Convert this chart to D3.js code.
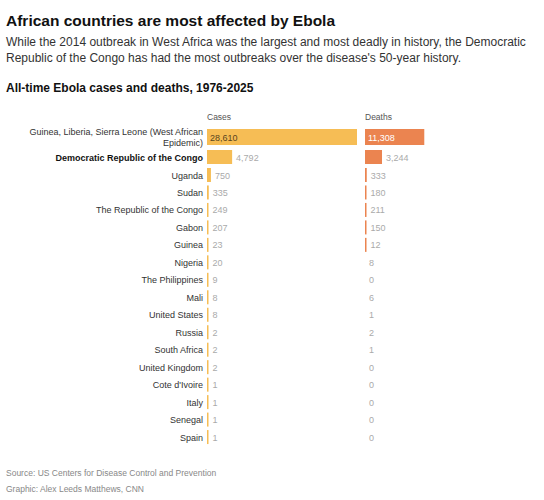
<!DOCTYPE html><html><head><meta charset="utf-8"><script src="https://cdn.jsdelivr.net/npm/d3@7"></script>
<style>body{margin:0;background:#fff;font-family:"Liberation Sans",Arial,sans-serif}</style></head><body><svg id="c" width="544" height="500" font-family="Liberation Sans, Arial, sans-serif"></svg>
<script>
const countries=["Guinea, Liberia, Sierra Leone (West African|Epidemic)","Democratic Republic of the Congo","Uganda","Sudan","The Republic of the Congo","Gabon","Guinea","Nigeria","The Philippines","Mali","United States","Russia","South Africa","United Kingdom","Cote d'Ivoire","Italy","Senegal","Spain"];
const cases=[28610,4792,750,335,249,207,23,20,9,8,8,2,2,2,1,1,1,1];
const deaths=[11308,3244,333,180,211,150,12,8,0,6,1,2,1,0,0,0,0,0];
const svg=d3.select("#c");
const t=(x,y,s,o={})=>svg.append("text").attr("x",x).attr("y",y).text(s).attr("font-size",o.fs||11).attr("fill",o.c||"#333").attr("font-weight",o.w||"normal").attr("text-anchor",o.a||"start");
t(6,26,"African countries are most affected by Ebola",{fs:15.5,w:"bold",c:"#111"});
t(6,46,"While the 2014 outbreak in West Africa was the largest and most deadly in history, the Democratic",{fs:12,c:"#333"});
t(6,62,"Republic of the Congo has had the most outbreaks over the disease's 50-year history.",{fs:12,c:"#333"});
t(6,92,"All-time Ebola cases and deaths, 1976-2025",{fs:12,w:"bold",c:"#111"});
const x=d3.scaleLinear().domain([0,28610]).range([0,150]);
const x0=207,x1=365;
t(x0,120,"Cases",{fs:8.5,c:"#555"});t(x1,120,"Deaths",{fs:8.5,c:"#555"});
const ys=i=>i===0?137:i===1?157:175+(i-2)*17.47;
countries.forEach((n,i)=>{
 const y=ys(i),h=i===0?16:14;
 const parts=n.split("|");
 if(parts.length>1){t(x0-4,y-2,parts[0],{fs:9,a:"end",c:"#333"});t(x0-4,y+9,parts[1],{fs:9,a:"end",c:"#333"});}
 else t(x0-4,y+3.5,n,{fs:9,a:"end",c:i===1?"#111":"#333",w:i===1?"bold":"normal"});
 [[x0,cases[i],"#f6bd55",0],[x1,deaths[i],"#eb8450",10]].forEach(([bx,v,col,th])=>{
  const show=v>th;
  const w=show?Math.max(x(v),1.5):0;
  if(show)svg.append("rect").attr("x",bx).attr("y",y-h/2).attr("width",w).attr("height",h).attr("fill",col);
  const lab=d3.format(",")(v);
  if(i===0)t(bx+3,y+3.5,lab,{fs:9,c:bx===x0?"#5a4520":"#fff"});
  else t(bx+w+4,y+3.5,lab,{fs:9,c:"#aaa"});
 });
});
t(6,476,"Source: US Centers for Disease Control and Prevention",{fs:8.5,c:"#888"});
t(6,492,"Graphic: Alex Leeds Matthews, CNN",{fs:8.5,c:"#888"});
</script></body></html>
